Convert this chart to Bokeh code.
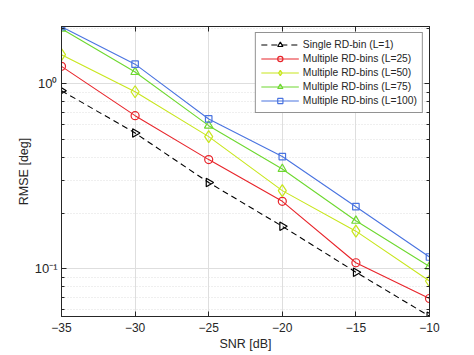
from bokeh.plotting import figure
from bokeh.models import (LinearAxis, LogAxis, FixedTicker, Range1d, Legend, LegendItem,
                          CustomJSTickFormatter)
from bokeh.embed import file_html
from bokeh.resources import INLINE

snr = [-35, -30, -25, -20, -15, -10]
rmse_single = [0.92, 0.543, 0.293, 0.170, 0.096, 0.0555]
rmse_L25 = [1.245, 0.674, 0.390, 0.232, 0.108, 0.0692]
rmse_L50 = [1.44, 0.908, 0.519, 0.265, 0.160, 0.086]
rmse_L75 = [1.99, 1.16, 0.595, 0.347, 0.182, 0.103]
rmse_L100 = [2.04, 1.28, 0.647, 0.405, 0.217, 0.116]
labels = ["Single RD-bin (L=1)", "Multiple RD-bins (L=25)", "Multiple RD-bins (L=50)",
          "Multiple RD-bins (L=75)", "Multiple RD-bins (L=100)"]
x_ticks = [-35, -30, -25, -20, -15, -10]
y_major = [0.1, 1.0]
y_minor = [0.05, 0.06, 0.07, 0.08, 0.09, 0.2, 0.3, 0.4, 0.5, 0.6, 0.7, 0.8, 0.9, 2.0]

FONT = "Liberation Sans"
TXT = "#262626"

p = figure(width=474, height=355, output_backend="svg", toolbar_location=None,
           y_axis_type="log", x_range=Range1d(-35, -10), y_range=Range1d(0.0553, 2.045),
           min_border_left=61, min_border_right=45, min_border_top=26, min_border_bottom=39,
           background_fill_color="white", border_fill_color="white")
p.outline_line_color = "#262626"
p.outline_line_width = 1

yfmt = CustomJSTickFormatter(code="""
const sup = {'-':'\u207b','0':'\u2070','1':'\u00b9','2':'\u00b2','3':'\u00b3'};
const e = Math.round(Math.log10(tick));
return '10' + String(e).split('').map(c => sup[c]).join('');
""")

def style_axis(ax, show_labels=True):
    ax.axis_line_color = "#262626"
    ax.major_tick_in = 5
    ax.major_tick_out = 0
    ax.minor_tick_in = 3
    ax.minor_tick_out = 0
    ax.major_tick_line_color = "#262626"
    ax.minor_tick_line_color = "#262626"
    ax.major_label_text_font = FONT
    ax.major_label_text_font_size = "12px"
    ax.major_label_text_color = TXT
    ax.axis_label_text_font = FONT
    ax.axis_label_text_font_size = "12.5px"
    ax.axis_label_text_font_style = "normal"
    ax.axis_label_text_color = TXT
    if not show_labels:
        ax.major_label_text_font_size = "0px"
        ax.major_label_text_alpha = 0

xt = FixedTicker(ticks=x_ticks)
yt = FixedTicker(ticks=y_major, minor_ticks=y_minor)

p.xaxis.ticker = xt
p.xaxis.axis_label = "SNR [dB]"
p.xaxis.axis_label_standoff = 2
p.xaxis.major_label_standoff = 6
p.yaxis.ticker = yt
p.yaxis.formatter = yfmt
p.yaxis.axis_label = "RMSE [deg]"
p.yaxis.axis_label_standoff = 1
p.yaxis.major_label_standoff = 4
for ax in p.xaxis + p.yaxis:
    style_axis(ax)
p.xaxis.minor_tick_in = 0
p.yaxis.major_label_text_font_size = "13px"

top = LinearAxis(ticker=FixedTicker(ticks=x_ticks))
style_axis(top, False)
top.minor_tick_in = 0
right = LogAxis(ticker=FixedTicker(ticks=y_major, minor_ticks=y_minor))
style_axis(right, False)
p.add_layout(top, "above")
p.add_layout(right, "right")

p.xgrid.ticker = xt
p.ygrid.ticker = yt
for g in p.xgrid + p.ygrid:
    g.grid_line_color = "#dedede"
    g.grid_line_width = 1
p.ygrid.minor_grid_line_color = "#dedede"
p.ygrid.minor_grid_line_dash = "1 2"

series = [
    (rmse_single, "black", "triangle", -90, "6 4", labels[0], 8.5),
    (rmse_L25, "#e8242a", "circle", 0, "solid", labels[1], 8),
    (rmse_L50, "#c8e61c", "diamond", 0, "solid", labels[2], 12),
    (rmse_L75, "#6ed830", "triangle", 0, "solid", labels[3], 8.5),
    (rmse_L100, "#4a74e0", "square", 0, "solid", labels[4], 6.5),
]

items = []
for vals, col, mk, ang, dash, lab, size in series:
    r1 = p.line(snr, vals, line_color=col, line_width=1.1, line_dash=dash)
    r2 = p.scatter(snr, vals, marker=mk, size=size, line_color=col, fill_color=None,
                   line_width=1.2, angle=ang, angle_units="deg")
    items.append(LegendItem(label=lab, renderers=[r1, r2]))

leg = Legend(items=items, location="top_right")
leg.margin = 6
leg.border_line_color = "#262626"
leg.border_line_width = 1
leg.background_fill_color = "white"
leg.label_text_font = FONT
leg.label_text_font_size = "10.3px"
leg.label_text_color = TXT
leg.glyph_width = 38
leg.glyph_height = 13
leg.label_height = 13
leg.label_standoff = 4
leg.spacing = 1
leg.padding = 5
p.add_layout(leg)

open("out.html", "w").write(file_html(p, INLINE))
